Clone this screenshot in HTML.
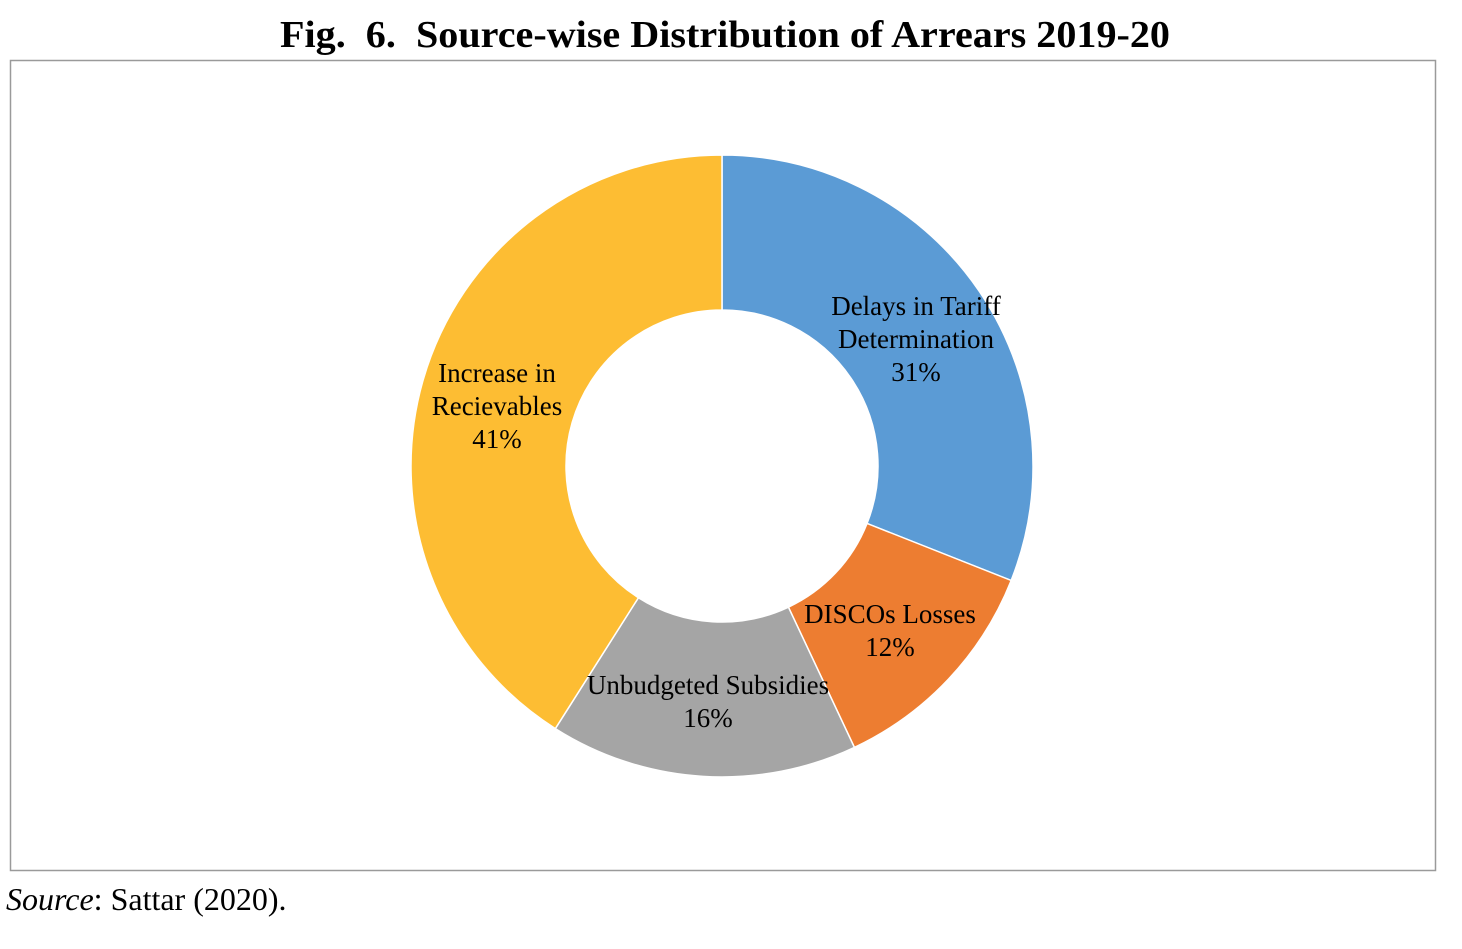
<!DOCTYPE html>
<html><head><meta charset="utf-8"><style>
body{margin:0;background:#fff;width:1462px;height:944px;overflow:hidden;font-family:"Liberation Serif",serif}
</style></head><body>
<svg width="1462" height="944" xmlns="http://www.w3.org/2000/svg">
<text x="280" y="47" font-family="Liberation Serif" font-weight="bold" font-size="38" textLength="890" lengthAdjust="spacingAndGlyphs" style="white-space:pre">Fig.  6.  Source-wise Distribution of Arrears 2019-20</text>
<rect x="10.5" y="60.5" width="1425" height="810" fill="none" stroke="#9a9a9a" stroke-width="1.5"/>
<g id="slices"></g>
<g id="labels" font-family="Liberation Serif" font-size="27" text-anchor="middle" fill="#000"></g>
<text x="6" y="910" font-family="Liberation Serif" font-size="32"><tspan font-style="italic">Source</tspan>: Sattar (2020).</text>
</svg>
<script>
const categories=["Delays in Tariff Determination","DISCOs Losses","Unbudgeted Subsidies","Increase in Recievables"];
const values=[31,12,16,41];
const colors=["#5B9BD5","#ED7D31","#A5A5A5","#FDBD33"];
const labelLines=[["Delays in Tariff","Determination"],["DISCOs Losses"],["Unbudgeted Subsidies"],["Increase in","Recievables"]];
const labelPos=[[916,306],[890,614],[708,685],[497,373]];
const cx=722,cy=466,R=311,r=156;
const total=values.reduce((a,b)=>a+b,0);
const ns="http://www.w3.org/2000/svg";
const g=document.getElementById('slices'),lg=document.getElementById('labels');
let a0=0;
function pt(a,rad){return [cx+rad*Math.sin(a),cy-rad*Math.cos(a)];}
values.forEach((v,i)=>{
  const a1=a0+v/total*2*Math.PI;const large=(a1-a0)>Math.PI?1:0;
  const p1=pt(a0,R),p2=pt(a1,R),p3=pt(a1,r),p4=pt(a0,r);
  const p=document.createElementNS(ns,'path');
  p.setAttribute('d',`M${p1}A${R},${R} 0 ${large} 1 ${p2}L${p3}A${r},${r} 0 ${large} 0 ${p4}Z`);
  p.setAttribute('fill',colors[i]);p.setAttribute('stroke','#fff');p.setAttribute('stroke-width','1.5');
  
  
  g.appendChild(p);
  const t=document.createElementNS(ns,'text');
  
  
  const lines=labelLines[i].concat([v+'%']);
  lines.forEach((s,j)=>{const ts=document.createElementNS(ns,'tspan');ts.setAttribute('x',labelPos[i][0]);ts.setAttribute('y',labelPos[i][1]+9+j*33);ts.textContent=s;t.appendChild(ts);});
  lg.appendChild(t);
  a0=a1;
});
</script>
</body></html>
